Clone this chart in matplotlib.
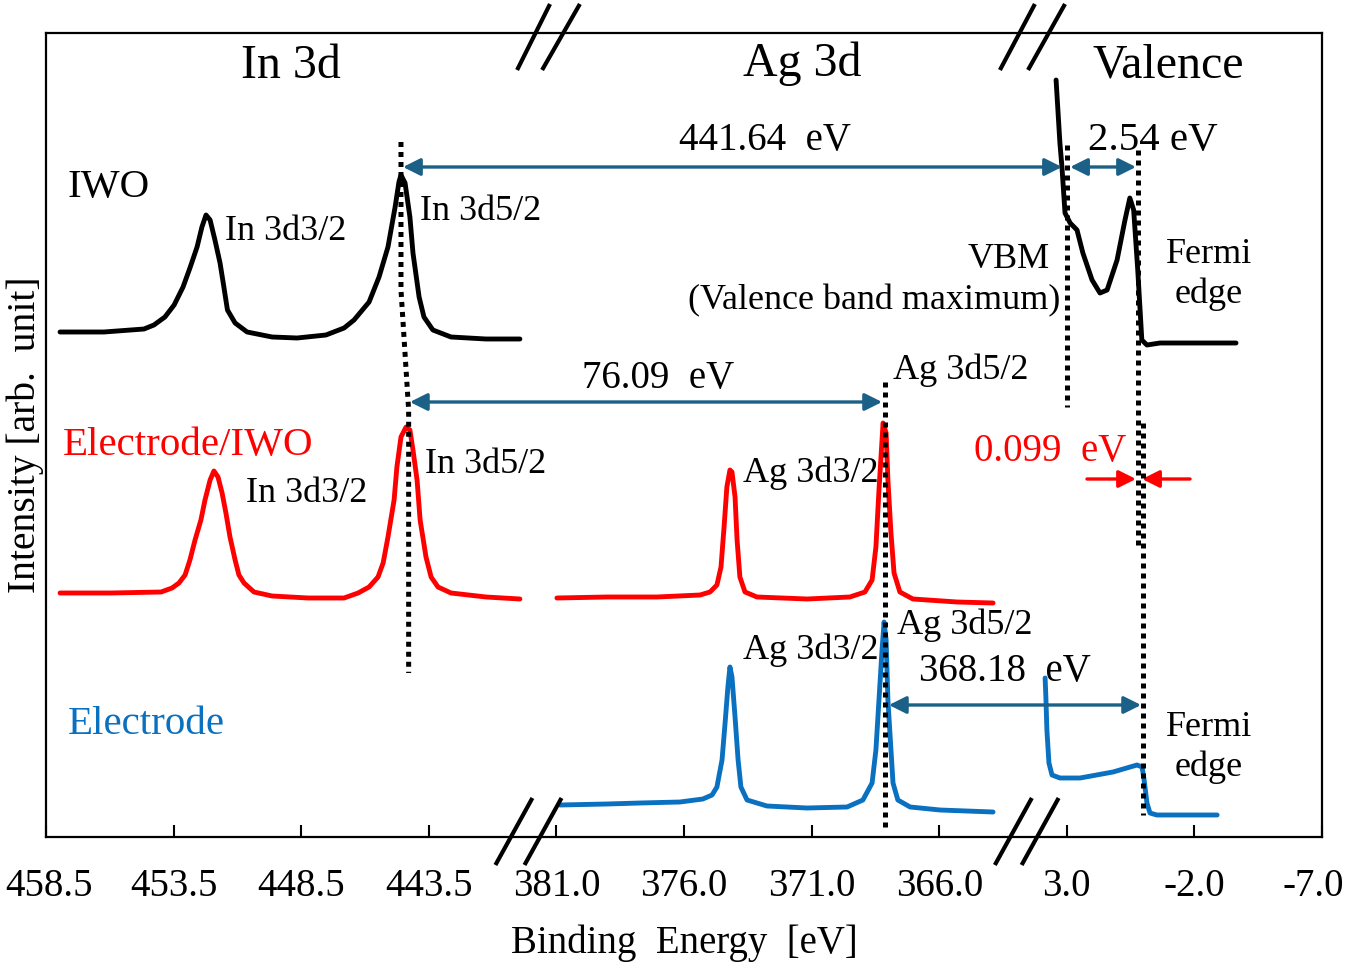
import numpy as np
import matplotlib.pyplot as plt
from matplotlib.transforms import ScaledTranslation

plt.rcParams['font.family'] = ['Liberation Serif', 'DejaVu Serif']

# ---- spectra: binding energy [eV], intensity [arb. unit]
# IWO, In 3d
iwo_in_be = [457.95, 456.23, 454.66, 454.27, 453.84, 453.48, 453.13, 452.86, 452.58, 452.39,
             452.23, 452.07, 451.88, 451.68, 451.53, 451.39, 451.09, 450.62, 449.64, 448.66,
             447.53, 446.82, 446.43, 445.84, 445.45, 445.10, 444.82, 444.67, 444.59, 444.43,
             444.24, 444.12, 443.88, 443.69, 443.34, 442.63, 441.26, 439.93]
iwo_in_int = [505, 505, 508, 512, 520, 532, 550, 569, 590, 610,
              622, 617, 597, 574, 550, 527, 514, 505, 500, 499,
              502, 509, 517, 535, 560, 590, 630, 655, 662, 654,
              620, 584, 540, 520, 507, 500, 498, 498]
# IWO, valence band
iwo_vb_be = [3.42, 3.27, 3.19, 3.07, 2.87, 2.60, 2.37, 2.01, 1.70, 1.42, 1.03, 0.72, 0.53,
             0.38, 0.22, 0.06, -0.14, -0.65, -3.63]
iwo_vb_int = [757, 694, 670, 624, 614, 607, 584, 557, 544, 547, 577, 617, 639,
              627, 567, 497, 492, 494, 494]

# Electrode/IWO, In 3d
eiwo_in_be = [457.95, 455.95, 453.99, 453.56, 453.29, 453.05, 452.86, 452.66, 452.43, 452.27,
              452.07, 451.92, 451.76, 451.60, 451.45, 451.29, 451.09, 450.94, 450.74, 450.35,
              449.64, 448.23, 446.82, 446.27, 445.84, 445.49, 445.29, 445.10, 444.86, 444.75,
              444.59, 444.39, 444.24, 444.12, 443.96, 443.84, 443.61, 443.41, 443.14, 442.63,
              441.26, 439.93]
eiwo_in_int = [244, 244, 245, 249, 254, 262, 277, 297, 317, 337,
               357, 366, 360, 344, 324, 300, 277, 262, 254, 245,
               241, 239, 239, 244, 250, 260, 274, 300, 337, 370,
               400, 410, 407, 387, 357, 317, 280, 260, 250, 244,
               240, 238]
# Electrode/IWO, Ag 3d
eiwo_ag_be = [380.98, 379.02, 377.06, 375.37, 374.98, 374.71, 374.55, 374.43, 374.32, 374.20,
              374.12, 374.00, 373.92, 373.81, 373.61, 373.14, 371.18, 369.50, 368.91, 368.63,
              368.48, 368.36, 368.24, 368.20, 368.08, 368.01, 367.89, 367.77, 367.54, 367.03,
              365.30, 363.89]
eiwo_ag_int = [239, 240, 240, 242, 245, 252, 270, 310, 350, 367,
               365, 340, 297, 260, 245, 240, 238, 240, 245, 257,
               290, 347, 397, 414, 404, 357, 304, 264, 245, 238,
               235, 234]

# Electrode, Ag 3d
el_ag_be = [380.86, 379.02, 377.72, 376.16, 375.26, 374.90, 374.71, 374.51, 374.39, 374.28,
            374.20, 374.12, 374.00, 373.88, 373.77, 373.53, 372.75, 371.18, 369.61, 368.99,
            368.63, 368.48, 368.36, 368.24, 368.16, 368.08, 368.01, 367.89, 367.81, 367.62,
            367.14, 365.97, 363.89]
el_ag_int = [32, 33, 34, 35, 38, 42, 50, 77, 114, 150,
             170, 160, 120, 77, 50, 37, 31, 29, 30, 37,
             54, 87, 137, 187, 215, 197, 137, 87, 54, 37,
             30, 27, 25]
# Electrode, valence band
el_vb_be = [3.85, 3.82, 3.78, 3.70, 3.58, 3.27, 2.48, 1.19, 0.25, 0.05, -0.03, -0.14, -0.26,
            -0.53, -2.89]
el_vb_int = [159, 140, 107, 74, 62, 59, 59, 65, 72, 70, 57, 34, 24, 22, 22]

# broken axis: In 3d and Ag 3d windows are 20 eV wide, valence window 10 eV
seg_start = [458.5, 381.0, 3.0]
seg_offset = [0, 20, 40]
tick_labels = ['458.5', '453.5', '448.5', '443.5', '381.0', '376.0', '371.0', '366.0',
               '3.0', '-2.0', '-7.0']


def pos(be, seg):
    return seg_offset[seg] + seg_start[seg] - np.asarray(be, dtype=float)


black = 'black'
red = '#FF0000'
blue = '#0A70C0'
teal = '#1B6086'

fig = plt.figure(figsize=(13.48, 9.67), dpi=100)
ax = fig.add_axes([46/1348, 130/967, 1276/1348, 804/967])

lw = 3.5
for be, inten, seg, c in [(iwo_in_be, iwo_in_int, 0, black),
                          (iwo_vb_be, iwo_vb_int, 2, black),
                          (eiwo_in_be, eiwo_in_int, 0, red),
                          (eiwo_ag_be, eiwo_ag_int, 1, red),
                          (el_ag_be, el_ag_int, 1, blue),
                          (el_vb_be, el_vb_int, 2, blue)]:
    ax.plot(pos(be, seg), inten, color=c, lw=lw, solid_joinstyle='round',
            solid_capstyle='round')

ax.set_xlim(0, 50)
ax.set_ylim(0, 804)
ax.set_xticks(np.arange(0, 51, 5))
ax.set_xticklabels(tick_labels)
ax.set_yticks([])
ax.tick_params(axis='x', direction='in', length=9, width=1.5, labelsize=28, pad=22)
for s in ax.spines.values():
    s.set_linewidth(1.6)
# the last label sits at the figure edge: nudge it in a little
last = ax.get_xticklabels()[-1]
last.set_transform(last.get_transform() + ScaledTranslation(-6/72, 0, fig.dpi_scale_trans))
first = ax.get_xticklabels()[0]
first.set_transform(first.get_transform() + ScaledTranslation(2/72, 0, fig.dpi_scale_trans))

ax.set_xlabel('Binding  Energy  [eV]', fontsize=28, va='center')
ax.xaxis.set_label_coords(0.5, -0.132)
ax.set_ylabel('Intensity [arb.  unit]', fontsize=28.5, va='center')
ax.yaxis.set_label_coords(-0.0165, 0.5)

# dotted guide lines
dot = dict(color='black', lw=3.6, linestyle=(0, (1, 1)), dash_capstyle='butt', zorder=4)
ax.plot([13.91, 13.91, 14.21, 14.21], [695, 547, 427, 164], **dot)
ax.plot([32.86, 32.86], [455, 9], **dot)
ax.plot([40.01, 40.01], [692, 430], **dot)
ax.plot([42.79, 42.79], [687, 292], **dot)
ax.plot([42.99, 42.99], [414, 22], **dot)


# energy separation arrows
def arrow(x0, x1, y, color=teal, style='<|-|>'):
    ax.annotate('', xy=(x1, y), xytext=(x0, y),
                arrowprops=dict(arrowstyle=style, color=color, lw=2.4,
                                mutation_scale=26, shrinkA=0, shrinkB=0))


arrow(13.99, 39.81, 670)
arrow(40.13, 42.71, 670)
arrow(14.26, 32.76, 435)
arrow(33.03, 42.91, 132)
arrow(40.79, 42.71, 358, color=red, style='-|>')
arrow(44.83, 42.95, 358, color=red, style='-|>')

# break marks
brk = dict(color='black', lw=3.0, clip_on=False, solid_capstyle='butt')
for x0, y0, x1, y1 in [(17.61, -28, 19.06, 39), (18.75, -28, 20.20, 39),
                       (37.18, -28, 38.63, 39), (38.23, -28, 39.68, 39),
                       (18.46, 767, 19.75, 833), (19.44, 767, 20.92, 833),
                       (37.38, 767, 38.75, 833), (38.48, 767, 39.93, 833)]:
    ax.plot([x0, x1], [y0, y1], **brk)

# labels (anchored on the text baseline)
big = 34.5
mid = 29.5
num = 28
small = 26
tx = dict(va='baseline')
ax.text(9.60, 759, 'In 3d', fontsize=big, ha='center', **tx)
ax.text(29.62, 761, 'Ag 3d', fontsize=big, ha='center', **tx)
ax.text(43.97, 759, 'Valence', fontsize=big, ha='center', **tx)

ax.text(0.86, 640, 'IWO', fontsize=mid, ha='left', **tx)
ax.text(7.01, 597, 'In 3d3/2', fontsize=small, ha='left', **tx)
ax.text(14.66, 617, 'In 3d5/2', fontsize=small, ha='left', **tx)
ax.text(28.17, 687, '441.64  eV', fontsize=num, ha='center', **tx)
ax.text(43.38, 687, '2.54 eV', fontsize=mid, ha='center', **tx)
ax.text(39.34, 569, 'VBM', fontsize=small, ha='right', **tx)
ax.text(39.73, 528, '(Valence band maximum)', fontsize=small, ha='right', **tx)
ax.text(45.57, 574, 'Fermi', fontsize=small, ha='center', **tx)
ax.text(45.57, 534, 'edge', fontsize=small, ha='center', **tx)

ax.text(0.67, 382, 'Electrode/IWO', fontsize=mid, color=red, ha='left', **tx)
ax.text(7.84, 335, 'In 3d3/2', fontsize=small, ha='left', **tx)
ax.text(14.85, 364, 'In 3d5/2', fontsize=small, ha='left', **tx)
ax.text(23.98, 449, '76.09  eV', fontsize=num, ha='center', **tx)
ax.text(33.19, 458, 'Ag 3d5/2', fontsize=small, ha='left', **tx)
ax.text(27.31, 355, 'Ag 3d3/2', fontsize=small, ha='left', **tx)
ax.text(39.34, 376, '0.099  eV', fontsize=num, color=red, ha='center', **tx)

ax.text(0.86, 103, 'Electrode', fontsize=mid, color=blue, ha='left', **tx)
ax.text(33.35, 203, 'Ag 3d5/2', fontsize=small, ha='left', **tx)
ax.text(27.31, 178, 'Ag 3d3/2', fontsize=small, ha='left', **tx)
ax.text(37.58, 156, '368.18  eV', fontsize=num, ha='center', **tx)
ax.text(45.57, 101, 'Fermi', fontsize=small, ha='center', **tx)
ax.text(45.57, 61, 'edge', fontsize=small, ha='center', **tx)

fig.savefig('out.png', dpi=100)
